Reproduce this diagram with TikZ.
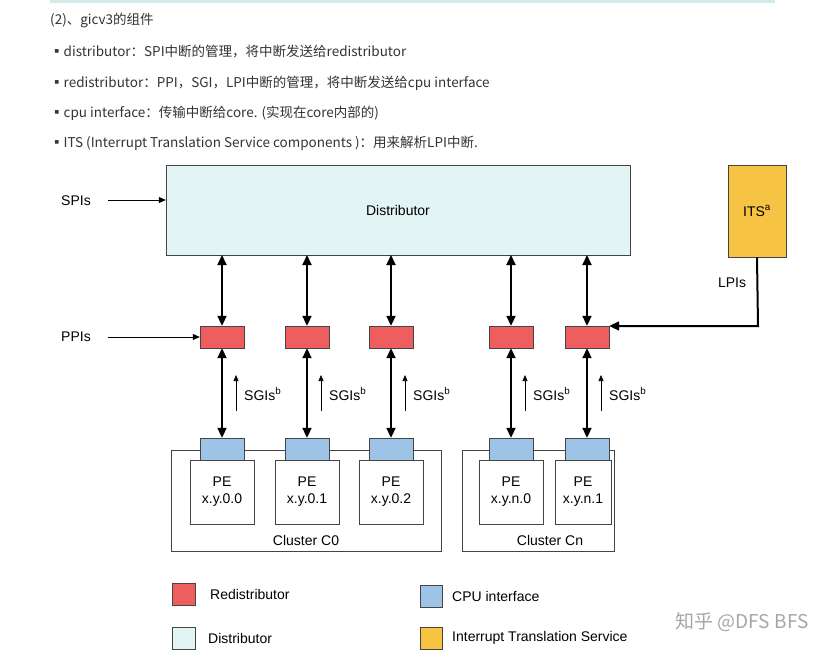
\documentclass[tikz,border=0pt]{standalone}
\usepackage{fontspec}
\setmainfont{Liberation Sans}
\newfontfamily\cjk{Noto Sans CJK SC}
\usetikzlibrary{arrows.meta}
\definecolor{redi}{HTML}{EE5E5E}
\definecolor{cpui}{HTML}{9DC3E6}
\definecolor{dist}{HTML}{E2F4F4}
\definecolor{itsc}{HTML}{F6C342}
\definecolor{bord}{HTML}{444444}
\begin{document}
\begin{tikzpicture}[x=1pt,y=-1pt,
  txt/.style={anchor=west,inner sep=0,font=\fontsize{13.5}{15}\selectfont\cjk,text=black!80},
  lab/.style={inner sep=0,font=\fontsize{14}{16}\selectfont},
  redbox/.style={draw=bord,fill=redi,minimum width=44pt,minimum height=22pt,inner sep=0},
  cpubox/.style={draw=bord,fill=cpui,minimum width=44pt,minimum height=22pt,inner sep=0},
  pebox/.style={draw=bord,fill=white,minimum width=64pt,minimum height=64pt,inner sep=0,align=center,font=\fontsize{14}{17}\selectfont},
  dbl/.style={{Triangle[length=10pt,width=9pt]}-{Triangle[length=10pt,width=9pt]},line width=2pt},
  arr/.style={-{Triangle[length=7pt,width=6pt]},line width=0.8pt},
  sgi/.style={-{Triangle[length=6pt,width=5pt]},line width=0.6pt}]
\useasboundingbox (0,0) rectangle (822,656);
\fill[dist!80!teal!60] (50,0) rectangle (775,3);
\node[txt] (t0) at (50,20) {(2)、gicv3的组件};
\node[txt] (t1) at (50,52) {▪distributor：SPI中断的管理，将中断发送给redistributor};
\node[txt] (t2) at (50,83) {▪redistributor：PPI，SGI，LPI中断的管理，将中断发送给cpu interface};
\node[txt] (t3) at (50,113) {▪cpu interface：传输中断给core. (实现在core内部的)};
\node[txt] (t4) at (50,143) {▪ITS (Interrupt Translation Service components )：用来解析LPI中断.};

\node[draw=bord,fill=dist,minimum width=464pt,minimum height=90pt,inner sep=0,font=\fontsize{14}{16}\selectfont] (D) at (398,210) {Distributor};
\node[draw=bord,fill=itsc,minimum width=58pt,minimum height=92pt,inner sep=0,font=\fontsize{14}{16}\selectfont] (ITS) at (757,211) {ITS\textsuperscript{a}};

\node[lab] (spi) at (76,201) {SPIs};
\coordinate (spie) at (108,200);
\draw[arr] (spie) -- (D.west|-spie);
\node[lab] (ppi) at (76,337) {PPIs};
\coordinate (ppie) at (108,337);

\foreach \n/\x in {a/222,b/307,c/391,d/511,e/587}{
  \node[redbox] (r\n) at (\x,337) {};
  \node[cpubox] (c\n) at (\x,449) {};
  \coordinate (dt\n) at (\x,255);
  \draw[dbl] (dt\n) -- (r\n.north);
  \draw[dbl] (r\n.south) -- (c\n.north);
  \coordinate (s1\n) at (\x+14,411);
  \coordinate (s2\n) at (\x+14,375);
  \draw[sgi] (s1\n) -- (s2\n);
  \node[lab,anchor=west] (sl\n) at (\x+22,394) {SGIs\textsuperscript{b}};
}
\draw[arr] (ppie) -- (ra.west|-ppie);

\node[draw=bord,minimum width=270pt,minimum height=101pt,inner sep=0] (C0) at (306,500.5) {};
\node[draw=bord,minimum width=152pt,minimum height=101pt,inner sep=0] (Cn) at (538,500.5) {};
\foreach \n in {a,b,c,d,e}{\node[cpubox] at (c\n) {};}
\node[pebox] (pa) at (222,492) {PE\\x.y.0.0};
\node[pebox] (pb) at (307,492) {PE\\x.y.0.1};
\node[pebox] (pc) at (391,492) {PE\\x.y.0.2};
\node[pebox] (pd) at (511,492) {PE\\x.y.n.0};
\node[pebox,minimum width=56pt] (pe) at (583,492) {PE\\x.y.n.1};
\node[lab] (c0l) at (306,540) {Cluster C0};
\node[lab] (cnl) at (550,540) {Cluster Cn};

\coordinate (lc) at (758,326);
\draw[arr,line width=2pt,-{Triangle[length=10pt,width=9pt]}] (ITS.south) -- (lc) -- (re.east|-lc);
\node[lab] (lpi) at (732,283) {LPIs};

\node[redbox,minimum width=23pt] (l1) at (183.5,594) {};
\node[lab,anchor=west] at (210,594) {Redistributor};
\node[cpubox,minimum width=22pt] (l2) at (431,596) {};
\node[lab,anchor=west] at (452,596) {CPU interface};
\node[draw=bord,fill=dist,minimum width=23pt,minimum height=22pt,inner sep=0] (l3) at (183.5,638) {};
\node[lab,anchor=west] at (208,638) {Distributor};
\node[draw=bord,fill=itsc,minimum width=22pt,minimum height=22pt,inner sep=0] (l4) at (431,638) {};
\node[lab,anchor=west] at (452,638) {Interrupt Translation Service};
\node[inner sep=0,font=\fontsize{19}{20}\selectfont\cjk,text=black!35] (wm) at (742,622) {知乎 @DFS BFS};
\end{tikzpicture}
\end{document}
